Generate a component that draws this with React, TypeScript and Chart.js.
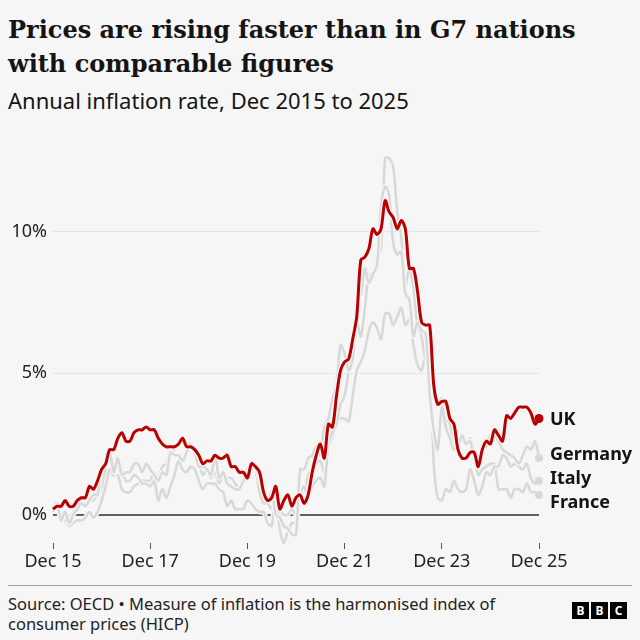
import React, { useEffect, useRef } from 'react';
import { Chart, registerables } from 'chart.js';

Chart.register(...registerables);

const BG = '#f6f6f6';
const UK_RED = '#b80000';
const GREY = '#d8d8d8';

// Monthly annual inflation rates, Dec 2015 .. Dec 2025 (121 months)
const ukValues = [
  0.2,
  0.3, 0.3, 0.5, 0.3, 0.3, 0.5, 0.6, 0.6, 1.0, 0.9, 1.2, 1.6,
  1.8, 2.3, 2.3, 2.7, 2.9, 2.6, 2.6, 2.9, 3.0, 3.0, 3.1, 3.0,
  3.0, 2.7, 2.5, 2.4, 2.4, 2.4, 2.5, 2.7, 2.4, 2.4, 2.3, 2.1,
  1.8, 1.9, 1.9, 2.1, 2.0, 2.0, 2.1, 1.7, 1.7, 1.5, 1.5, 1.3,
  1.8, 1.7, 1.5, 0.8, 0.5, 0.6, 1.0, 0.2, 0.5, 0.7, 0.3, 0.6,
  0.7, 0.4, 0.7, 1.5, 2.1, 2.5, 2.0, 3.2, 3.1, 4.2, 5.1, 5.4,
  5.5, 6.2, 7.0, 9.0, 9.1, 9.4, 10.1, 9.9, 10.1, 11.1, 10.7, 10.5,
  10.1, 10.4, 10.1, 8.7, 8.7, 7.9, 6.8, 6.7, 6.7, 4.6, 3.9, 4.0,
  4.0, 3.4, 3.2, 2.3, 2.0, 2.0, 2.2, 2.2, 1.7, 2.3, 2.6, 2.5,
  3.0, 2.8, 2.6, 3.5, 3.4, 3.6, 3.8, 3.8, 3.8, 3.6, 3.2, 3.4,
];

const germanyValues = [
  0.2,
  0.4, -0.2, 0.1, -0.3, 0.0, 0.2, 0.4, 0.3, 0.5, 0.7, 0.7, 1.7,
  1.9, 2.2, 1.5, 2.0, 1.4, 1.5, 1.5, 1.8, 1.8, 1.5, 1.8, 1.6,
  1.4, 1.2, 1.5, 1.4, 2.2, 2.1, 2.1, 1.9, 2.2, 2.4, 2.2, 1.7,
  1.7, 1.6, 1.4, 2.1, 1.3, 1.5, 1.1, 1.0, 0.9, 0.9, 1.2, 1.5,
  1.6, 1.7, 1.3, 0.8, 0.5, 0.8, 0.0, -0.1, -0.4, -0.5, -0.7, -0.7,
  1.6, 1.6, 2.0, 2.1, 2.4, 2.1, 3.1, 3.4, 4.1, 4.6, 6.0, 5.7,
  5.1, 5.5, 7.6, 7.8, 8.7, 8.2, 8.5, 8.8, 10.9, 11.6, 11.3, 9.6,
  9.2, 9.3, 7.8, 7.6, 6.3, 6.8, 6.5, 6.4, 4.3, 3.0, 2.3, 3.8,
  3.1, 2.7, 2.3, 2.4, 2.8, 2.5, 2.6, 2.0, 1.8, 2.4, 2.4, 2.8,
  2.8, 2.6, 2.3, 2.2, 2.1, 2.0, 1.8, 2.1, 2.4, 2.3, 2.6, 2.0,
];

const italyValues = [
  0.1,
  0.4, -0.2, -0.2, -0.4, -0.3, -0.2, -0.2, -0.1, 0.1, -0.1, 0.1, 0.5,
  1.0, 1.6, 1.4, 2.0, 1.6, 1.2, 1.2, 1.4, 1.3, 1.1, 1.1, 1.0,
  1.2, 0.5, 0.9, 0.6, 1.0, 1.4, 1.9, 1.6, 1.5, 1.7, 1.6, 1.2,
  0.9, 1.1, 1.1, 1.1, 0.9, 0.8, 0.3, 0.5, 0.2, 0.2, 0.2, 0.5,
  0.4, 0.2, 0.1, 0.1, -0.3, -0.4, 0.8, -0.5, -1.0, -0.6, -0.3, -0.3,
  0.7, 1.0, 0.6, 1.0, 1.2, 1.3, 1.0, 2.5, 2.9, 3.2, 3.9, 4.2,
  5.1, 6.2, 6.8, 6.3, 7.3, 8.5, 8.4, 9.1, 9.4, 12.6, 12.6, 12.3,
  10.7, 9.8, 8.1, 8.7, 8.0, 6.7, 6.3, 5.5, 5.6, 1.8, 0.6, 0.5,
  0.9, 0.8, 1.2, 0.9, 0.8, 0.9, 1.6, 1.2, 0.7, 1.0, 1.5, 1.4,
  1.7, 1.7, 2.1, 2.0, 1.7, 1.8, 1.7, 1.6, 1.8, 1.3, 1.1, 1.2,
];

const franceValues = [
  0.3,
  0.3, -0.1, -0.1, -0.1, 0.1, 0.3, 0.4, 0.4, 0.5, 0.5, 0.7, 0.8,
  1.6, 1.4, 1.4, 1.4, 0.9, 0.8, 0.8, 1.0, 1.1, 1.2, 1.2, 1.2,
  1.5, 1.3, 1.7, 1.8, 2.3, 2.3, 2.6, 2.6, 2.5, 2.5, 2.2, 1.9,
  1.4, 1.6, 1.3, 1.5, 1.1, 1.4, 1.3, 1.3, 1.1, 0.9, 1.2, 1.6,
  1.7, 1.6, 0.8, 0.4, 0.4, 0.2, 0.9, 0.2, 0.0, 0.0, 0.2, 0.0,
  0.8, 0.8, 1.4, 1.6, 1.8, 1.9, 1.5, 2.4, 2.7, 3.2, 3.4, 3.4,
  3.3, 4.2, 5.1, 5.4, 5.8, 6.5, 6.8, 6.6, 6.2, 7.1, 7.1, 6.7,
  7.0, 7.3, 6.7, 6.9, 6.0, 5.3, 5.1, 5.7, 5.7, 4.5, 3.9, 4.1,
  3.4, 3.2, 2.4, 2.4, 2.6, 2.5, 2.7, 2.2, 1.4, 1.6, 1.7, 1.8,
  1.8, 0.9, 0.9, 0.9, 0.6, 0.9, 0.9, 0.8, 1.1, 0.8, 0.8, 0.7,
];

const seriesNames = ['UK', 'Germany', 'Italy', 'France'];
// vertical anchor (in % units) of each end label's baseline
const labelBaselines = [3.18, 1.92, 1.08, 0.24];

const xTickLabels = ['Dec 15', 'Dec 17', 'Dec 19', 'Dec 21', 'Dec 23', 'Dec 25'];
const xTickStep = 24; // months between labelled ticks
const yTickValues = [0, 5, 10];
const yMin = -1;
const yMax = 13;

const toPoints = (arr: number[]) => arr.map((y, i) => ({ x: i, y }));

const endLabels = {
  id: 'endLabels',
  afterDatasetsDraw(chart: any) {
    const { ctx, chartArea, scales } = chart;
    ctx.save();
    ctx.font = 'bold 18px "Noto Sans"';
    ctx.fillStyle = '#141414';
    ctx.textAlign = 'left';
    ctx.textBaseline = 'alphabetic';
    seriesNames.forEach((name, i) => {
      ctx.fillText(name, chartArea.right + 11, scales.y.getPixelForValue(labelBaselines[i]));
    });
    ctx.restore();
  },
};

function App() {
  const ref = useRef<HTMLCanvasElement | null>(null);

  useEffect(() => {
    if (!ref.current) return;
    const all = [ukValues, germanyValues, italyValues, franceValues];
    const colors = [UK_RED, GREY, GREY, GREY];
    const widths = [3, 2.5, 2.5, 2.5];
    const datasets: any[] = [];
    all.forEach((vals, i) => {
      const last = vals.length - 1;
      datasets.push({
        label: seriesNames[i],
        data: toPoints(vals),
        borderColor: colors[i],
        backgroundColor: colors[i],
        borderWidth: widths[i],
        tension: 0.3,
        pointRadius: (c: any) => (c.dataIndex === last ? (i === 0 ? 4.5 : 4) : 0),
        pointBorderWidth: 0,
        pointHoverRadius: 0,
        clip: false,
        order: i * 2,
      });
      datasets.push({
        label: seriesNames[i] + ' halo',
        data: toPoints(vals),
        borderColor: BG,
        borderWidth: widths[i] + 2.5,
        tension: 0.3,
        pointRadius: 0,
        clip: false,
        order: i * 2 + 1,
      });
    });

    const chart = new Chart(ref.current, {
      type: 'line',
      data: { datasets },
      options: {
        animation: false,
        responsive: false,
        maintainAspectRatio: false,
        events: [],
        layout: { padding: { top: 12, right: 101, left: 0, bottom: 0 } },
        plugins: { legend: { display: false }, tooltip: { enabled: false } },
        scales: {
          x: {
            type: 'linear',
            min: 0,
            max: (xTickLabels.length - 1) * xTickStep,
            border: { display: false },
            grid: {
              drawOnChartArea: false,
              drawTicks: true,
              tickLength: 6,
              color: '#555555',
              lineWidth: 1,
            },
            ticks: {
              stepSize: xTickStep,
              autoSkip: false,
              maxRotation: 0,
              padding: 2,
              color: '#222222',
              font: { family: 'Noto Sans', size: 18 },
              callback: (v: any) => xTickLabels[Math.round(Number(v) / xTickStep)] ?? '',
            },
            afterFit: (s: any) => {
              s.height = 37;
            },
          },
          y: {
            min: yMin,
            max: yMax,
            border: { display: false },
            afterBuildTicks: (s: any) => {
              s.ticks = yTickValues.map((v) => ({ value: v }));
            },
            grid: {
              drawTicks: false,
              color: (c: any) => (c.tick && c.tick.value === 0 ? '#606060' : '#e4e4e4'),
              lineWidth: (c: any) => (c.tick && c.tick.value === 0 ? 2 : 1),
            },
            ticks: {
              padding: 6,
              color: '#222222',
              font: { family: 'Noto Sans', size: 18 },
              callback: (v: any) => v + '%',
            },
            afterFit: (s: any) => {
              s.width = 53;
            },
          },
        },
      },
      plugins: [endLabels],
    });
    return () => chart.destroy();
  }, []);

  return (
    <div
      style={{
        position: 'fixed',
        left: 0,
        top: 0,
        width: 640,
        height: 640,
        background: BG,
        overflow: 'hidden',
        color: '#141414',
      }}
    >
      <div
        style={{
          position: 'absolute',
          left: 8,
          top: 13,
          fontFamily: '"DejaVu Serif"',
          fontWeight: 'bold',
          fontSize: 24,
          lineHeight: '34px',
          whiteSpace: 'nowrap',
        }}
      >
        Prices are rising faster than in G7 nations
        <br />
        with comparable figures
      </div>
      <div
        style={{
          position: 'absolute',
          left: 8,
          top: 87,
          fontFamily: '"Noto Sans"',
          fontSize: 22,
          lineHeight: '26px',
          whiteSpace: 'nowrap',
        }}
      >
        Annual inflation rate, Dec 2015 to 2025
      </div>
      <canvas
        ref={ref}
        width={640}
        height={450}
        style={{ position: 'absolute', left: 0, top: 130, width: 640, height: 450 }}
      />
      <div
        style={{
          position: 'absolute',
          left: 8,
          top: 585,
          width: 624,
          height: 1,
          background: '#a0a0a0',
        }}
      />
      <div
        style={{
          position: 'absolute',
          left: 8,
          top: 594,
          fontFamily: '"Noto Sans"',
          fontSize: 16.5,
          lineHeight: '20px',
          color: '#222222',
          whiteSpace: 'nowrap',
        }}
      >
        Source: OECD • Measure of inflation is the harmonised index of
        <br />
        consumer prices (HICP)
      </div>
      <div style={{ position: 'absolute', left: 572, top: 602, display: 'flex', gap: 2 }}>
        {['B', 'B', 'C'].map((l, i) => (
          <div
            key={i}
            style={{
              width: 17,
              height: 17,
              background: '#000',
              color: '#fff',
              fontFamily: '"Noto Sans"',
              fontWeight: 'bold',
              fontSize: 12,
              lineHeight: '17px',
              textAlign: 'center',
            }}
          >
            {l}
          </div>
        ))}
      </div>
    </div>
  );
}

export default App;
